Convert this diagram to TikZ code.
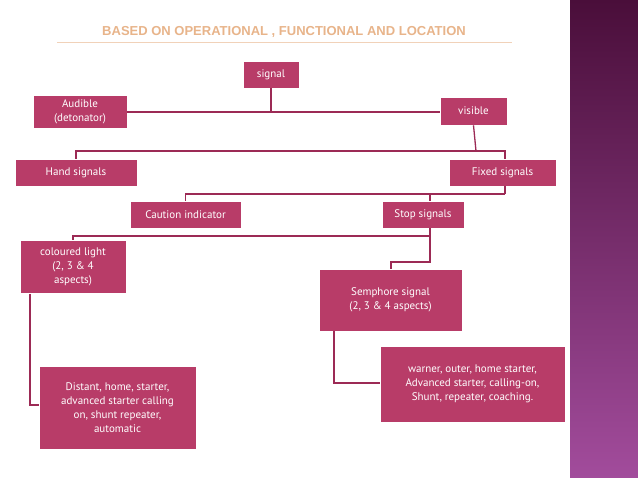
\documentclass[tikz,border=0pt]{standalone}
\usepackage{fontspec}
\setmainfont{PT Sans}
\newfontfamily\titlefont{Liberation Sans}
\definecolor{boxc}{HTML}{B83C68}
\definecolor{linec}{HTML}{9C2A55}
\definecolor{titc}{HTML}{E8B48A}
\definecolor{bandtop}{HTML}{4A0E3A}
\definecolor{bandbot}{HTML}{A24C9C}
\begin{document}
\begin{tikzpicture}[x=1pt,y=-1pt,
  bx/.style={fill=boxc,draw=white,line width=0.6pt,text=white,align=center,inner sep=0pt,font=\fontsize{11}{14}\selectfont},
  ln/.style={draw=linec,line width=1.3pt}]
\useasboundingbox (0,0) rectangle (638,478);
\fill[white] (0,0) rectangle (638,478);
\shade[top color=bandtop,bottom color=bandbot] (570,0) rectangle (638,478);
\node[text=titc,font=\titlefont\bfseries\fontsize{13}{15}\selectfont] (title) at (284,32) {BASED ON OPERATIONAL , FUNCTIONAL  AND LOCATION};
\draw[titc!60,line width=0.8pt] (57,42) -- (512,42);
\newcommand\bxat[6]{\node[bx,minimum width=#4-#2,minimum height=#5-#3] (#1) at ({(#2+#4)/2},{(#3+#5)/2}) {#6};}
\bxat{sig}{243}{61}{299}{88}{signal}
\bxat{aud}{33}{95}{127}{128}{Audible\\(detonator)}
\bxat{vis}{440}{97}{507}{125}{visible}
\bxat{hand}{15}{159}{137}{186}{Hand signals}
\bxat{fix}{449}{159}{556}{186}{Fixed signals}
\bxat{cau}{130}{201}{241}{228}{Caution indicator}
\bxat{stop}{382}{201}{464}{228}{Stop signals}
\bxat{col}{20}{240}{126}{293}{coloured light\\(2, 3 \& 4\\aspects)}
\bxat{sem}{319}{269}{462}{331}{Semphore signal\\(2, 3 \& 4 aspects)}
\bxat{dist}{39}{366}{196}{449}{Distant, home, starter,\\advanced starter calling\\on, shunt repeater,\\automatic}
\bxat{war}{380}{346}{565}{422}{warner, outer, home starter,\\Advanced starter, calling-on,\\Shunt, repeater, coaching.}
\draw[ln] (sig.south) -- (271,112);
\draw[ln] (aud.east |- 0,112) -- (vis.west |- 0,112);
\draw[ln] (vis.south) -- (476,151);
\draw[ln] (hand.north) |- (76,151) -- (505,151) -- (fix.north -| 505,0);
\draw[ln] (fix.south -| 505,0) -- (505,194);
\draw[ln] (cau.north) |- (186,194) -- (505,194);
\draw[ln] (430,194) -- (stop.north -| 430,0);
\draw[ln] (stop.south -| 430,0) -- (430,262) -| (sem.north -| 391,0);
\draw[ln] (col.north -| 73,0) -- (73,236) -- (430,236);
\draw[ln] (30,294) |- (dist.west |- 0,405);
\draw[ln] (334,331) |- (war.west |- 0,383);
\end{tikzpicture}
\end{document}
